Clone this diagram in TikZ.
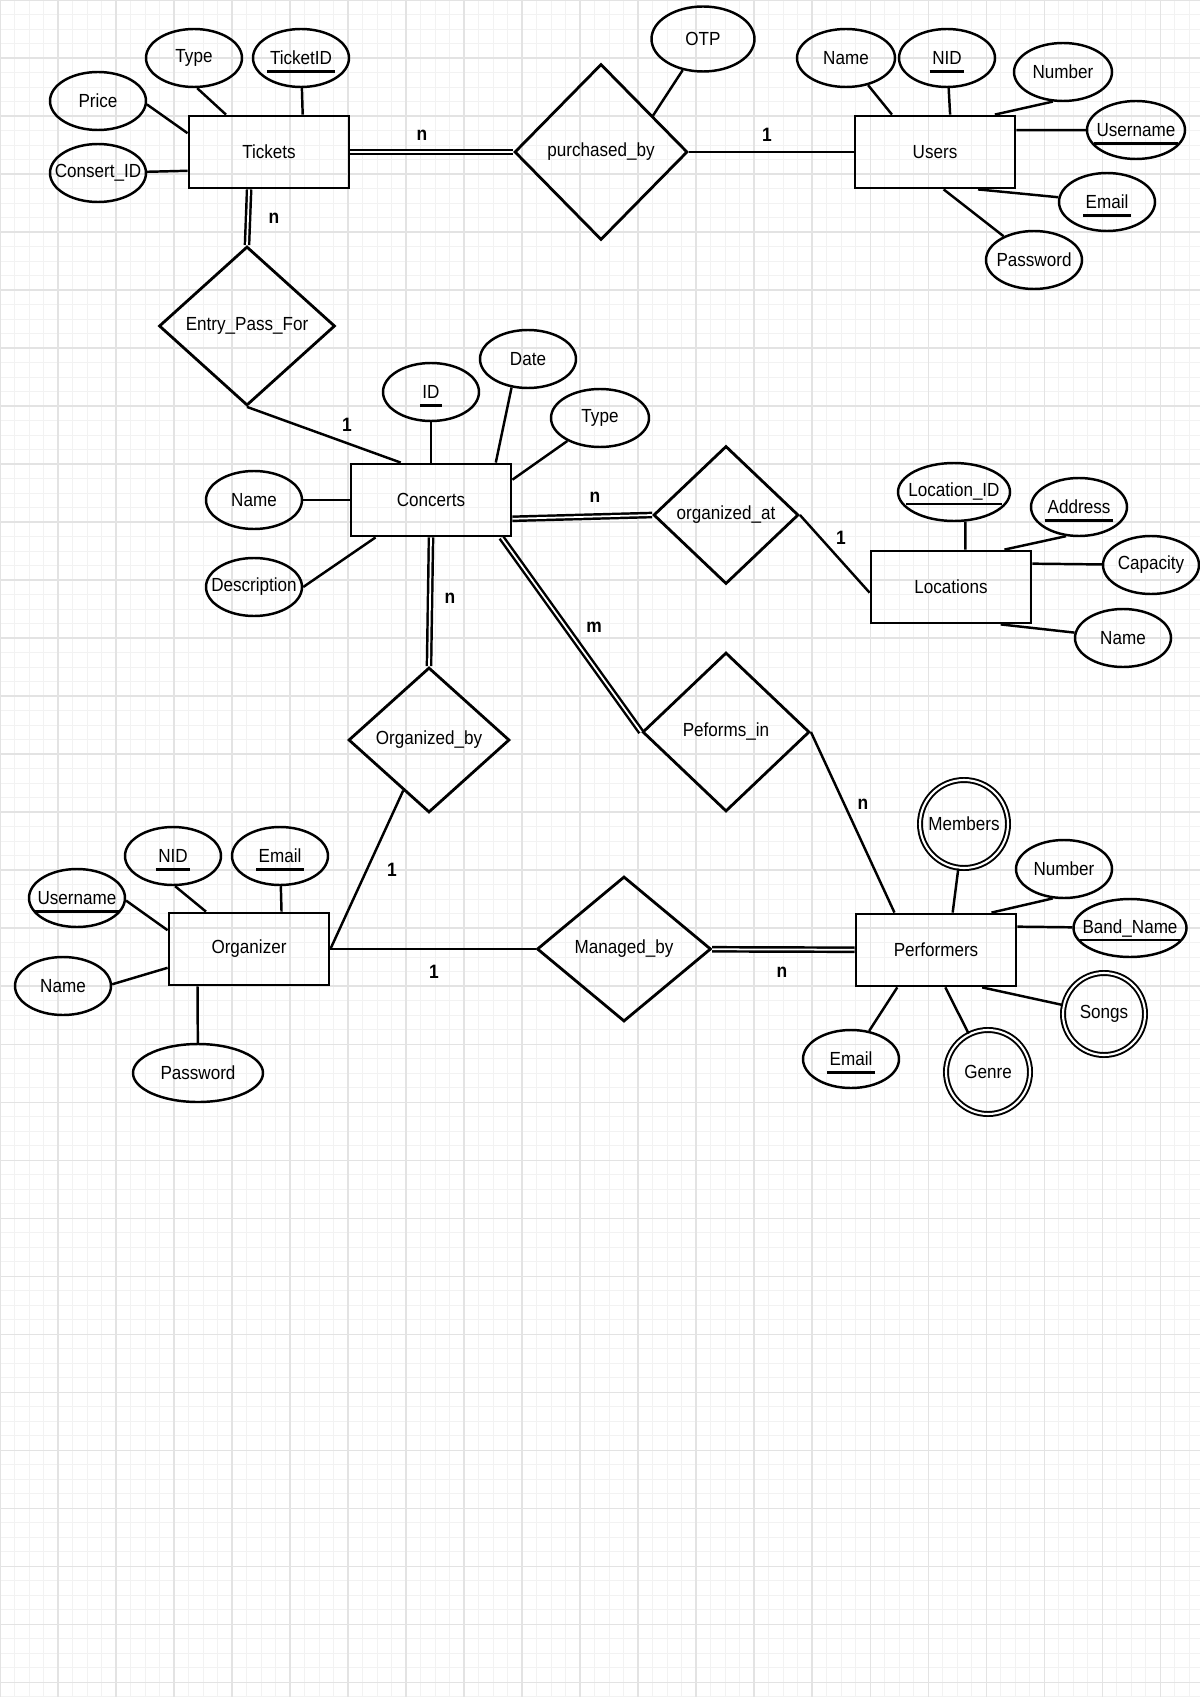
\documentclass[tikz,border=0pt]{standalone}
\usepackage{fontspec}
\setmainfont[FakeStretch=0.9]{Liberation Sans}
\usetikzlibrary{shapes.geometric}
\newcommand{\keyattr}[1]{\setbox0\hbox{#1}\rlap{\hspace{-1.5pt}\smash{\raisebox{-4.6pt}{\rule{\dimexpr\wd0+3pt\relax}{1.4pt}}}}\box0}
\begin{document}
\begin{tikzpicture}[x=0.2mm,y=-0.2mm,
entity/.style={draw,rectangle,line width=1.6pt,minimum width=32mm,minimum height=14.4mm},
attr/.style={draw,ellipse,line width=1.4pt,minimum width=19.2mm,minimum height=11.6mm,
  execute at begin node={\hbox to 0pt\bgroup\hss},execute at end node={\hss\egroup}},
multi/.style={attr,double,line width=1.1pt,double distance=1.2pt},
rel/.style={draw,diamond,line width=1.6pt},
link/.style={line width=1.4pt},
total/.style={double,line width=1.4pt,double distance=1pt},
card/.style={font=\fontsize{11}{12}\selectfont\bfseries}]
\tikzstyle{every node}+=[inner sep=0pt,font=\fontsize{10.8}{12}\selectfont]
\useasboundingbox (0,0) rectangle (1200,1697);
\fill [white] (0,0) rectangle (1200,1697);
\draw [black!5,line width=0.4pt,step=2.9mm] (0,0) grid (1200,1697);
\draw [black!11,line width=0.6pt,step=11.6mm] (0,0) grid (1200,1697);
\draw (269,152) node[entity] (tickets) {Tickets};
\draw (194,58) node[attr] (t_type) {Type};
\draw (301,58) node[attr] (t_id) {\keyattr{TicketID}};
\draw (98,101) node[attr] (t_price) {Price};
\draw (98,173) node[attr] (t_cid) {Consert\_ID};
\draw (601,152) node[rel,minimum width=34.6mm,minimum height=35.2mm] (purchased) {purchased\_by};
\draw (703,39) node[attr,minimum width=20.6mm,minimum height=13mm] (otp) {OTP};
\draw (935,152) node[entity] (users) {Users};
\draw (846,58) node[attr,minimum width=19.6mm] (u_name) {Name};
\draw (947,58) node[attr] (u_nid) {\keyattr{NID}};
\draw (1063,72) node[attr,minimum width=19.6mm] (u_number) {Number};
\draw (1136,130) node[attr,minimum width=19.6mm] (u_user) {\keyattr{Username}};
\draw (1107,202) node[attr] (u_email) {\keyattr{Email}};
\draw (1034,260) node[attr] (u_pass) {Password};
\draw (247,326) node[rel,minimum width=35.2mm,minimum height=31.8mm] (entry) {Entry\_Pass\_For};
\draw (431,500) node[entity] (concerts) {Concerts};
\draw (431,392) node[attr] (c_id) {\keyattr{ID}};
\draw (528,359) node[attr] (c_date) {Date};
\draw (600,418) node[attr,minimum width=19.6mm] (c_type) {Type};
\draw (254,500) node[attr] (c_name) {Name};
\draw (254,587) node[attr] (c_desc) {Description};
\draw (726,515) node[rel,minimum width=29mm,minimum height=27.6mm] (org_at) {organized\_at};
\draw (951,587) node[entity] (locations) {Locations};
\draw (954,492) node[attr,minimum width=22.4mm] (l_id) {\keyattr{Location\_ID}};
\draw (1079,507) node[attr] (l_addr) {\keyattr{Address}};
\draw (1151,565) node[attr] (l_cap) {Capacity};
\draw (1123,638) node[attr] (l_name) {Name};
\draw (726,732) node[rel,minimum width=33.4mm,minimum height=31.8mm] (perf_in) {Peforms\_in};
\draw (429,740) node[rel,minimum width=32.2mm,minimum height=29mm] (org_by) {Organized\_by};
\draw (249,949) node[entity] (organizer) {Organizer};
\draw (173,856) node[attr] (o_nid) {\keyattr{NID}};
\draw (280,856) node[attr] (o_email) {\keyattr{Email}};
\draw (77,898) node[attr] (o_user) {\keyattr{Username}};
\draw (63,986) node[attr] (o_name) {Name};
\draw (198,1073) node[attr,minimum width=26mm] (o_pass) {Password};
\draw (624,949) node[rel,minimum width=34.8mm,minimum height=29mm] (managed) {Managed\_by};
\draw (936,950) node[entity] (performers) {Performers};
\draw (964,824) node[multi,minimum width=17.6mm,minimum height=17.6mm] (p_members) {Members};
\draw (1064,869) node[attr] (p_number) {Number};
\draw (1130,928) node[attr,minimum width=22.6mm] (p_band) {\keyattr{Band\_Name}};
\draw (1104,1014) node[multi,minimum width=16.4mm,minimum height=16.4mm] (p_songs) {Songs};
\draw (988,1072) node[multi,minimum width=16.8mm,minimum height=16.8mm] (p_genre) {Genre};
\draw (851,1059) node[attr] (p_email) {\keyattr{Email}};
\draw [link] (t_type.276) -- (tickets.139);
\draw [link] (t_id) -- (tickets.48);
\draw [link] (t_price.356) -- (tickets.167);
\draw [link] (t_cid) -- (tickets.193);
\draw [total] (tickets) -- (purchased);
\draw [total] (tickets.242) -- (entry.north);
\draw [link] (otp) -- (purchased.35);
\draw [link] (purchased) -- (users);
\draw [link] (u_name) -- (users.139);
\draw [link] (u_nid) -- (users.68);
\draw [link] (u_number.251) -- (users.32);
\draw [link] (u_user) -- (users.15);
\draw [link] (u_email) -- (users.319);
\draw [link] (u_pass) -- (users.283);
\draw [link] (entry.south) -- (concerts.129);
\draw [link] (c_id) -- (concerts);
\draw [link] (c_date.240) -- (concerts.30);
\draw [link] (c_type) -- (concerts.14);
\draw [link] (c_name) -- (concerts);
\draw [link] (c_desc.east) -- (concerts.214);
\draw [total] (concerts.347) -- (org_at.west);
\draw [total] (concerts.south) -- (org_by.north);
\draw [total] (concerts.332) -- (perf_in.west);
\draw [link] (org_at.east) -- (locations.184);
\draw [link] (l_id.291) -- (locations.69);
\draw [link] (l_addr.246) -- (locations.35);
\draw [link] (l_cap) -- (locations.16);
\draw [link] (l_name) -- (locations.323);
\draw [link] (perf_in.east) -- (performers.138);
\draw [link] (org_by.243) -- (organizer.east);
\draw [link] (organizer) -- (managed);
\draw [link] (o_nid.274) -- (organizer.139);
\draw [link] (o_email) -- (organizer.49);
\draw [link] (o_user.357) -- (organizer.167);
\draw [link] (o_name.2) -- (organizer.193);
\draw [link] (o_pass) -- (organizer.216);
\draw [total] (managed) -- (performers);
\draw [link] (p_members) -- (performers.66);
\draw [link] (p_number.249) -- (performers.34);
\draw [link] (p_band) -- (performers.16);
\draw [link] (p_songs) -- (performers.321);
\draw [link] (p_genre) -- (performers.284);
\draw [link] (p_email) -- (performers.224);
\draw (422,135) node[card] (n_tp) {n};
\draw (767,135) node[card] (one_pu) {1};
\draw (274,218) node[card] (n_te) {n};
\draw (347,425) node[card] (one_ec) {1};
\draw (595,497) node[card] (n_co) {n};
\draw (841,538) node[card] (one_ol) {1};
\draw (450,598) node[card] (n_cb) {n};
\draw (594,627) node[card] (m_cp) {m};
\draw (863,804) node[card] (n_pp) {n};
\draw (392,870) node[card] (one_bo) {1};
\draw (434,972) node[card] (one_om) {1};
\draw (782,972) node[card] (n_mp) {n};
\end{tikzpicture}
\end{document}
